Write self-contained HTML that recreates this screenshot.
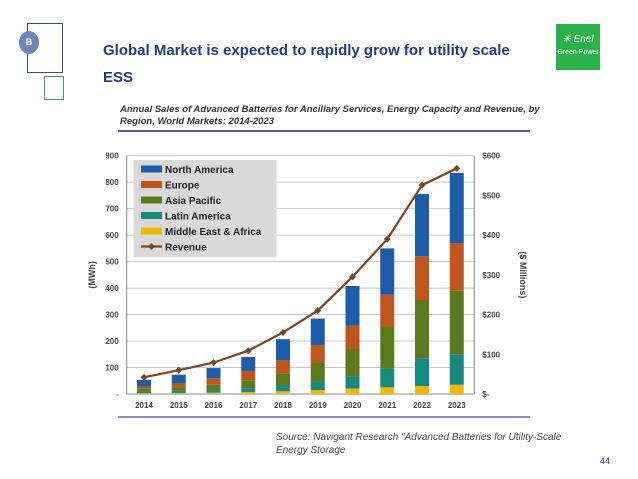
<!DOCTYPE html>
<html><head><meta charset="utf-8"><style>
body{margin:0;background:#fff;width:638px;height:479px;overflow:hidden;position:relative;font-family:"Liberation Sans",sans-serif}
.abs{position:absolute}
</style></head><body>
<div class="abs" style="left:27px;top:23px;width:34px;height:48px;border:1.5px solid #2f4f8f"></div>
<div class="abs" style="left:44px;top:76px;width:18px;height:22px;border:1.5px solid #3aa84a"></div>
<div class="abs" style="left:19px;top:31px;width:20px;height:23px;border-radius:50%;background:#6b87b8;color:#fff;font-size:9px;font-weight:bold;text-align:center;line-height:23px">B</div>
<div class="abs" style="left:103px;top:37px;width:440px;font-size:15px;font-weight:bold;color:#1f3c88;line-height:27px">Global Market is expected to rapidly grow for utility scale ESS</div>
<div class="abs" style="left:556px;top:24px;width:44px;height:46px;background:#2bb24c;color:#fff;text-align:center;font-size:7px"><div style="font-size:10px;font-style:italic;margin-top:10px">✳ Enel</div><div style="margin-top:4px">Green Power</div></div>
<div class="abs" style="left:120px;top:104px;width:420px;font-size:9.5px;font-weight:bold;font-style:italic;color:#333;line-height:12px">Annual Sales of Advanced Batteries for Ancillary Services, Energy Capacity and Revenue, by Region, World Markets: 2014-2023</div>
<div class="abs" style="left:118px;top:130px;width:412px;height:2px;background:#5a5a9a"></div>
<div class="abs" style="left:118px;top:416px;width:412px;height:2px;background:#8a8ac0"></div>
<svg class="abs" style="left:0;top:0" width="638" height="479" id="chart"></svg>
<div class="abs" style="left:276px;top:431px;width:300px;font-size:10px;font-style:italic;color:#444;line-height:13px">Source: Navigant Research "Advanced Batteries for Utility-Scale Energy Storage</div>
<div class="abs" style="left:600px;top:456px;font-size:9px;color:#1f3c88">44</div>
<script>
const years=["2014","2015","2016","2017","2018","2019","2020","2021","2022","2023"];
const mea=[3,4,5,7,10,15,20,25,30,35];
const latam=[7,8,10,15,22,32,45,70,105,115];
const asia=[10,13,20,30,45,70,105,160,220,240];
const europe=[8,15,25,35,50,68,88,120,165,180];
const northAmerica=[25,33,38,53,80,100,150,175,235,265];
const revenue=[42,60,79,109,155,210,295,390,526,568];
const leftTicks=[0,100,200,300,400,500,600,700,800,900];
const leftLabels=["-","100","200","300","400","500","600","700","800","900"];
const rightTicks=[0,100,200,300,400,500,600];
const rightLabels=["$-","$100","$200","$300","$400","$500","$600"];
const series=[["mea",mea,"#f2b705","Middle East & Africa"],["latam",latam,"#178a80","Latin America"],["asia",asia,"#5b7a1e","Asia Pacific"],["europe",europe,"#c0561b","Europe"],["north-america",northAmerica,"#1c5ca8","North America"]];
const svg=document.getElementById('chart');const NS="http://www.w3.org/2000/svg";
const X0=126.7,X1=474.3,Y0=394,Y1=155.7;
const y=v=>Y0-(v/900)*(Y0-Y1);
const yr=v=>Y0-(v/600)*(Y0-Y1);
const x=i=>144+i*34.75;
function mk(t,a,txt){const e=document.createElementNS(NS,t);for(const k in a)e.setAttribute(k,a[k]);if(txt!=null)e.textContent=txt;svg.appendChild(e);return e;}
leftTicks.forEach((t,i)=>{
 const g=mk('line',{x1:X0,x2:X1,y1:y(t),y2:y(t),stroke:i?'#c8c8c8':'#888','stroke-width':1});
 
 
 const l=mk('text',{x:X0-8,y:y(t)+3,'text-anchor':'end','font-size':8,'font-weight':'bold',fill:'#444'},leftLabels[i]);
 
 
});
rightTicks.forEach((t,i)=>{
 const l=mk('text',{x:X1+8,y:yr(t)+3,'font-size':8,'font-weight':'bold',fill:'#444'},rightLabels[i]);
 
 
});
mk('line',{x1:X0,x2:X0,y1:Y1,y2:Y0,stroke:'#888'});
mk('line',{x1:X1,x2:X1,y1:Y1,y2:Y0,stroke:'#888'});
const yt=mk('text',{x:0,y:0,transform:`translate(95,${(Y0+Y1)/2}) rotate(-90)`,'text-anchor':'middle','font-size':9,'font-weight':'bold',fill:'#444'},'(MWh)');


const rt=mk('text',{x:0,y:0,transform:`translate(520,${(Y0+Y1)/2}) rotate(90)`,'text-anchor':'middle','font-size':9,'font-weight':'bold',fill:'#444'},'($ Millions)');


years.forEach((yrs,i)=>{
 let acc=0;
 series.forEach(s=>{const v=s[1][i];
  const r=mk('rect',{x:x(i)-7,y:y(acc+v),width:14,height:y(acc)-y(acc+v),fill:s[2]});
  
  
  acc+=v;});
 const t=mk('text',{x:x(i),y:Y0+14,'text-anchor':'middle','font-size':8,'font-weight':'bold',fill:'#444'},yrs);
 
 
});
const pl=mk('polyline',{points:revenue.map((v,i)=>x(i)+','+yr(v)).join(' '),fill:'none',stroke:'#7a4520','stroke-width':2.2});


revenue.forEach((v,i)=>{
 const m=mk('path',{d:`M${x(i)-3.5},${yr(v)}L${x(i)},${yr(v)-3.5}L${x(i)+3.5},${yr(v)}L${x(i)},${yr(v)+3.5}Z`,fill:'#7a4520'});
 
 
});
const lg=mk('rect',{x:133.5,y:160,width:143,height:97,fill:'#d9d9d9'});


const ent=[series[4],series[3],series[2],series[1],series[0]];
ent.forEach((s,i)=>{const yy=169+i*15.5;
 const sw=mk('rect',{x:141,y:yy-3.5,width:21,height:7,fill:s[2]});
 
 
 const t=mk('text',{x:165,y:yy+4,'font-size':10,'font-weight':'bold',fill:'#222'},s[3]);
 
 
});
const ly=169+5*15.5;
mk('line',{x1:141,x2:162,y1:ly,y2:ly,stroke:'#7a4520','stroke-width':2.2});
mk('path',{d:`M148,${ly}L151.5,${ly-3.5}L155,${ly}L151.5,${ly+3.5}Z`,fill:'#7a4520'});
const rl=mk('text',{x:165,y:ly+4,'font-size':10,'font-weight':'bold',fill:'#222'},'Revenue');


</script>
</body></html>
